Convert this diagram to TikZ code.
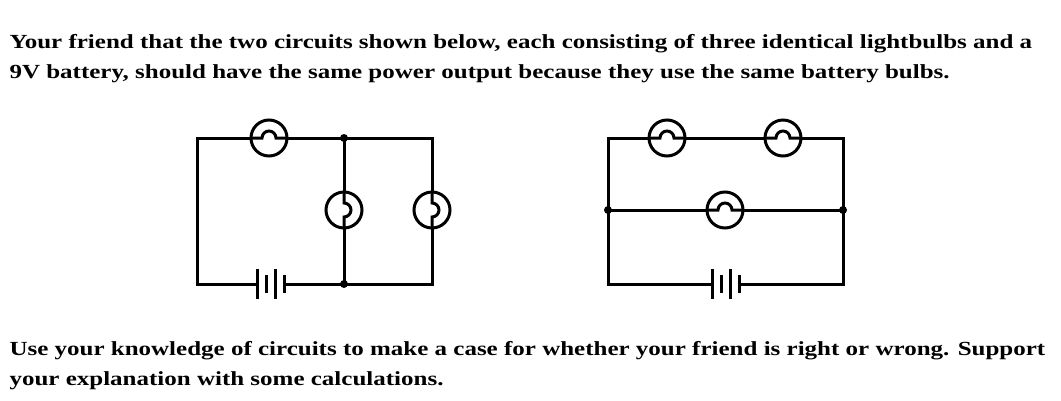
\documentclass[tikz,border=0pt]{standalone}
\usepackage{fontspec}
\setmainfont{Liberation Serif}
\newfontfamily\wide[FakeStretch=1.25]{Liberation Serif}
\begin{document}
\begin{tikzpicture}[x=1pt,y=-1pt,line width=3pt,
  txt/.style={anchor=base west,inner sep=0pt,font=\wide\bfseries\fontsize{20}{24}\selectfont},
  dot/.style={circle,fill,inner sep=0pt,minimum size=8pt}]
\useasboundingbox (0,0) rectangle (1061,400);
\newcommand{\hbulb}[2]{%
  \draw (#1,#2) circle (18);
  \draw (#1-18,#2) -- (#1-7,#2) arc (180:360:7) -- (#1+18,#2);}
\newcommand{\vbulb}[2]{%
  \draw (#1,#2) circle (18);
  \draw (#1,#2-18) -- (#1,#2-7) arc (-90:90:7) -- (#1,#2+18);}
\newcommand{\batt}[2]{%
  \draw (#1,#2-15) -- (#1,#2+15);
  \draw (#1+9,#2-9) -- (#1+9,#2+9);
  \draw (#1+18,#2-15) -- (#1+18,#2+15);
  \draw (#1+27,#2-9) -- (#1+27,#2+9);}
\node[txt] (t1) at (8,48) {Your friend that the two circuits shown below, each consisting of three identical lightbulbs and a};
\node[txt] (t2) at (8,78) {9V battery, should have the same power output because they use the same battery bulbs.};
\node[txt] (t3) at (8,355) {Use your knowledge of circuits to make a case for whether your friend is right or wrong. Support};
\node[txt] (t4) at (8,385) {your explanation with some calculations.};
% left circuit
\draw (251,138) -- (197,138) -- (197,284) -- (257,284);
\draw (287,138) -- (432,138) -- (432,192);
\draw (432,228) -- (432,284) -- (284,284);
\draw (344,138) -- (344,192); \draw (344,228) -- (344,284);
\hbulb{269}{138} \vbulb{344}{210} \vbulb{432}{210}
\batt{257}{284}
\node[dot] (j1) at (344,138) {}; \node[dot] (j2) at (344,284) {};
% right circuit
\draw (649,138) -- (608,138) -- (608,284) -- (712,284);
\draw (685,138) -- (765,138);
\draw (801,138) -- (843,138) -- (843,284) -- (739,284);
\draw (608,210) -- (707,210); \draw (743,210) -- (843,210);
\hbulb{667}{138} \hbulb{783}{138} \hbulb{725}{210}
\batt{712}{284}
\node[dot] (j3) at (608,210) {}; \node[dot] (j4) at (843,210) {};
\end{tikzpicture}
\end{document}
